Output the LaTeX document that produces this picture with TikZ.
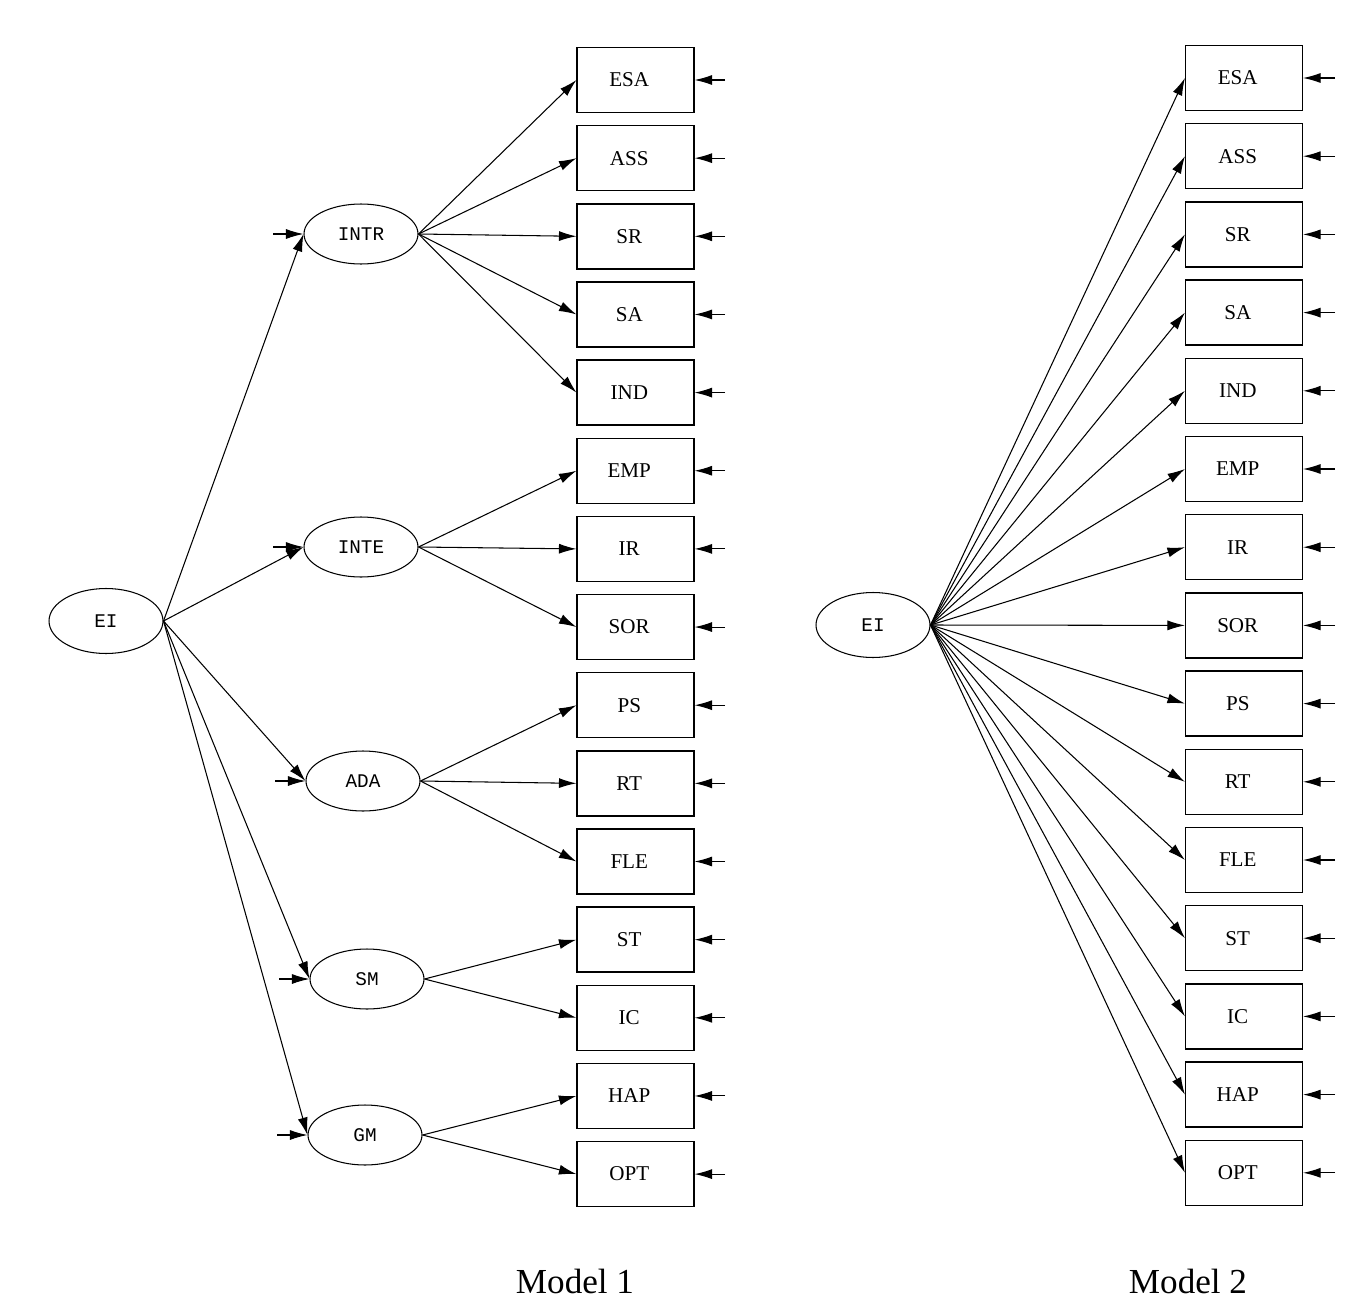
\documentclass[tikz,border=0pt]{standalone}
\usepackage{fontspec}
\setmainfont{Liberation Serif}
\newfontfamily\monofont{Liberation Mono}
\usetikzlibrary{arrows.meta,shapes.geometric}

\tikzset{
  obs/.style={draw,thick,minimum width=2.3cm,minimum height=1.3cm,text width=2.1cm,align=center,font=\fontsize{12}{14}\selectfont},
  lat/.style={draw,ellipse,semithick,minimum width=2.28cm,minimum height=1.2cm,inner sep=0pt,font=\monofont\fontsize{11}{13}\selectfont},
  path/.style={semithick,-{Latex[length=3.5mm,width=2mm]}},
}

\begin{document}
\begin{tikzpicture}[x=0.02cm,y=-0.02cm]
    \useasboundingbox (0,0) rectangle (1350,1305);

    % model 1
    \foreach \lab [count=\i] in {ESA,ASS,SR,SA,IND,EMP,IR,SOR,PS,RT,FLE,ST,IC,HAP,OPT}
    {
      \node [obs] (a\i) at (635.5,{80+78.15*(\i-1)}) {\hspace*{-0.25cm}\lab};
      \coordinate (ae\i) at (725,{80+78.15*(\i-1)});
      \draw [path] (ae\i) -- (a\i.east);
    }
    \node [lat,minimum height=1.3cm] (ei1) at (106,621) {EI};
    \node [lat] (intr) at (361,234) {INTR};
    \node [lat] (inte) at (361,547) {INTE};
    \node [lat] (ada)  at (363,781) {ADA};
    \node [lat] (sm)   at (367,979) {SM};
    \node [lat] (gm)   at (365,1135) {GM};
    \foreach \f in {intr,inte,ada,sm,gm}
    {
      \coordinate (r\f) at ([xshift=-30*0.02cm]\f.west);
      \draw [path] (r\f) -- (\f.west);
      \draw [path] (ei1.east) -- (\f.west);
    }
    \foreach \i in {1,...,5} \draw [path] (intr.east) -- (a\i.west);
    \foreach \i in {6,7,8} \draw [path] (inte.east) -- (a\i.west);
    \foreach \i in {9,10,11} \draw [path] (ada.east) -- (a\i.west);
    \foreach \i in {12,13} \draw [path] (sm.east) -- (a\i.west);
    \foreach \i in {14,15} \draw [path] (gm.east) -- (a\i.west);

    % model 2
    \foreach \lab [count=\i] in {ESA,ASS,SR,SA,IND,EMP,IR,SOR,PS,RT,FLE,ST,IC,HAP,OPT}
    {
      \node [obs] (b\i) at (1244,{78+78.2*(\i-1)}) {\hspace*{-0.25cm}\lab};
      \coordinate (be\i) at (1335,{78+78.2*(\i-1)});
      \draw [path] (be\i) -- (b\i.east);
    }
    \node [lat,minimum height=1.3cm] (ei2) at (873,625) {EI};
    \foreach \i in {1,...,15} \draw [path] (ei2.east) -- (b\i.west);

    \node [font=\fontsize{20}{24}\selectfont] (m1) at (575,1281) {Model 1};
    \node [font=\fontsize{20}{24}\selectfont] (m2) at (1188,1281) {Model 2};
\end{tikzpicture}
\end{document}
